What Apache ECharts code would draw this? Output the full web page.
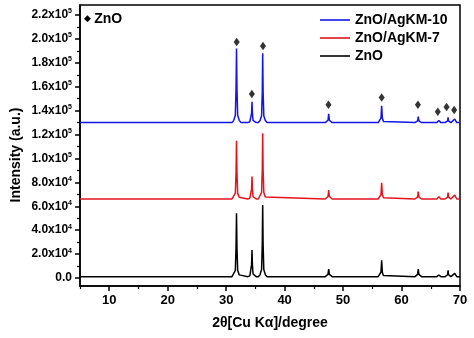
<!DOCTYPE html>
<html>
<head>
<meta charset="utf-8">
<script src="https://cdn.jsdelivr.net/npm/echarts@6/dist/echarts.min.js"></script>
<style>html,body{margin:0;padding:0;background:#fff}#c{width:474px;height:338px}</style>
</head>
<body>
<div id="c"></div>
<script>
// 2θ positions (degrees) shared by the three patterns
var twoTheta = [5,
  31.00, 31.30, 31.57, 31.69, 31.77, 31.85, 31.97, 32.24, 32.54,
  33.70, 34.05, 34.24, 34.35, 34.42, 34.49, 34.60, 34.79, 35.14,
  35.50, 35.80, 36.06, 36.18, 36.25, 36.32, 36.44, 36.70, 37.00,
  46.95, 47.25, 47.42, 47.54, 47.66, 47.83, 48.13,
  56.00, 56.30, 56.48, 56.60, 56.72, 56.90, 57.20,
  62.30, 62.60, 62.75, 62.86, 62.97, 63.12, 63.42,
  66.03, 66.38, 66.73,
  67.45, 67.75, 67.88, 67.96, 68.04, 68.17, 68.45,
  68.75, 69.10, 69.45,
  70];
var zno = [1100,
  1100, 2600, 6400, 25000, 54100, 25000, 6400, 2600, 1100,
  1100, 1800, 3300, 11100, 23400, 11100, 3300, 1800, 1100,
  1100, 2800, 7100, 28100, 61100, 28100, 7100, 2800, 1100,
  1100, 1600, 3000, 7500, 3000, 1600, 1100,
  1100, 2000, 4800, 14800, 4800, 2000, 1100,
  1100, 1600, 3000, 7500, 3000, 1600, 1100,
  1100, 2500, 1100,
  1100, 1500, 2700, 6400, 2700, 1500, 1100,
  1100, 3900, 1100,
  1100];
var agkm7 = [66100,
  66100, 67600, 71000, 88100, 114900, 88100, 71000, 67600, 66100,
  66100, 66800, 68000, 74500, 84800, 74500, 68000, 66800, 66100,
  66100, 67700, 71600, 90900, 121100, 90900, 71600, 67700, 66100,
  66100, 66700, 68200, 73600, 68200, 66700, 66100,
  66100, 67100, 69700, 79700, 69700, 67100, 66100,
  66100, 66600, 67900, 72200, 67900, 66600, 66100,
  66100, 68000, 66100,
  66100, 66500, 67700, 71400, 67700, 66500, 66100,
  66100, 69400, 66100,
  66100];
var agkm10 = [130000,
  130000, 131900, 136200, 157900, 192000, 157900, 136200, 131900, 130000,
  130000, 130700, 131800, 137900, 147500, 137900, 131800, 130700, 130000,
  130000, 131700, 135800, 156100, 188000, 156100, 135800, 131700, 130000,
  130000, 130600, 132000, 137300, 132000, 130600, 130000,
  130000, 131000, 133800, 144000, 133800, 131000, 130000,
  130000, 130400, 131500, 135000, 131500, 130400, 130000,
  130000, 131700, 130000,
  130000, 130400, 131500, 134500, 131500, 130400, 130000,
  130000, 133000, 130000,
  130000];
// ZnO reflection markers (diamonds)
var markerX = [31.8, 34.4, 36.3, 47.5, 56.6, 62.8, 66.2, 67.7, 69.0];
var markerY = [197500, 154000, 194000, 145000, 151000, 145000, 139000, 143000, 140500];
// tick values
var xTicks = [10, 20, 30, 40, 50, 60, 70];
var xMinorTicks = [5, 15, 25, 35, 45, 55, 65];
var yTicks = [0, 20000, 40000, 60000, 80000, 100000, 120000, 140000, 160000, 180000, 200000, 220000];
var yMinorTicks = [10000, 30000, 50000, 70000, 90000, 110000, 130000, 150000, 170000, 190000, 210000];
var seriesNames = ['ZnO/AgKM-10', 'ZnO/AgKM-7', 'ZnO'];

function pairs(ys) { return twoTheta.map(function (x, i) { return [x, ys[i]]; }); }
function yFmt(v) {
  if (v === 0) return '{b|0.0}';
  var e = Math.floor(Math.log10(v) + 1e-9);
  var m = (v / Math.pow(10, e)).toFixed(1);
  return '{b|' + m + 'x10}{s|' + e + '}';
}
var FONT = '"Liberation Sans", Arial, sans-serif';
var XMIN = 5, XMAX = 70, YMIN = -6700, YMAX = 228400;
var C10 = '#1414e6', C7 = '#e3141c', C0 = '#000';

var chart = echarts.init(document.getElementById('c'), null, {renderer: 'canvas'});
chart.setOption({
  animation: false,
  backgroundColor: '#fff',
  grid: {left: 80, right: 14, top: 5, bottom: 52, show: true, borderColor: '#000', borderWidth: 1.5, backgroundColor: 'transparent'},
  legend: {
    data: seriesNames.map(function (n) { return {name: n, icon: 'rect'}; }),
    orient: 'vertical', left: 315, top: 8, itemWidth: 30, itemHeight: 1.6, itemGap: 4,
    textStyle: {fontFamily: FONT, fontWeight: 'bold', fontSize: 14, color: '#000', lineHeight: 14}
  },
  xAxis: [{
    type: 'value', min: XMIN, max: XMAX,
    name: '2θ[Cu Kα]/degree', nameLocation: 'middle', nameGap: 30,
    nameTextStyle: {fontFamily: FONT, fontWeight: 'bold', fontSize: 14, color: '#000'},
    axisLine: {onZero: false, lineStyle: {color: '#000', width: 1.5}},
    axisTick: {customValues: xTicks, length: 5, lineStyle: {color: '#000', width: 1.5}},
    axisLabel: {customValues: xTicks, margin: 8, fontFamily: FONT, fontWeight: 'bold', fontSize: 13, color: '#000'},
    splitLine: {show: false}
  }, {
    type: 'value', min: XMIN, max: XMAX, position: 'bottom',
    axisLine: {show: false, onZero: false},
    axisTick: {customValues: xMinorTicks, length: 3, lineStyle: {color: '#000', width: 1.2}},
    axisLabel: {show: false}, splitLine: {show: false}
  }],
  yAxis: [{
    type: 'value', min: YMIN, max: YMAX, position: 'left',
    axisLine: {show: true, onZero: false, lineStyle: {color: '#000', width: 1.5}},
    axisTick: {show: true, customValues: yTicks, length: 5, lineStyle: {color: '#000', width: 1.5}},
    axisLabel: {
      customValues: yTicks, margin: 8, formatter: yFmt,
      rich: {
        b: {fontFamily: FONT, fontWeight: 'bold', fontSize: 12, color: '#000', lineHeight: 14},
        s: {fontFamily: FONT, fontWeight: 'bold', fontSize: 7, color: '#000', verticalAlign: 'top', lineHeight: 8}
      }
    },
    splitLine: {show: false}
  }, {
    type: 'value', min: YMIN, max: YMAX, position: 'left',
    axisLine: {show: false, onZero: false},
    axisTick: {show: true, customValues: yMinorTicks, length: 3, lineStyle: {color: '#000', width: 1.2}},
    axisLabel: {show: false}, splitLine: {show: false}
  }],
  graphic: [{
    type: 'text', left: 84, top: 12,
    style: {
      text: '{d|◆} {t|ZnO}',
      rich: {
        d: {fontSize: 9, fontFamily: '"DejaVu Sans", sans-serif', fill: '#000'},
        t: {fontSize: 14, fontWeight: 'bold', fontFamily: FONT, fill: '#000'}
      }
    }
  }, {
    type: 'text', x: 16, y: 155, rotation: Math.PI / 2,
    style: {text: 'Intensity (a.u.)', fontFamily: FONT, fontWeight: 'bold', fontSize: 14, fill: '#000', align: 'center', verticalAlign: 'middle'}
  }],
  series: [
    {name: 'ZnO/AgKM-10', type: 'line', symbol: 'none', data: pairs(agkm10), lineStyle: {color: C10, width: 1.5}, itemStyle: {color: C10}},
    {name: 'ZnO/AgKM-7', type: 'line', symbol: 'none', data: pairs(agkm7), lineStyle: {color: C7, width: 1.5}, itemStyle: {color: C7}},
    {name: 'ZnO', type: 'line', symbol: 'none', data: pairs(zno), lineStyle: {color: C0, width: 1.5}, itemStyle: {color: C0}},
    {name: 'markers', type: 'scatter', symbol: 'diamond', symbolSize: [6, 8.5],
     data: markerX.map(function (x, i) { return [x, markerY[i]]; }), itemStyle: {color: '#000'}}
  ]
});
</script>
</body>
</html>
